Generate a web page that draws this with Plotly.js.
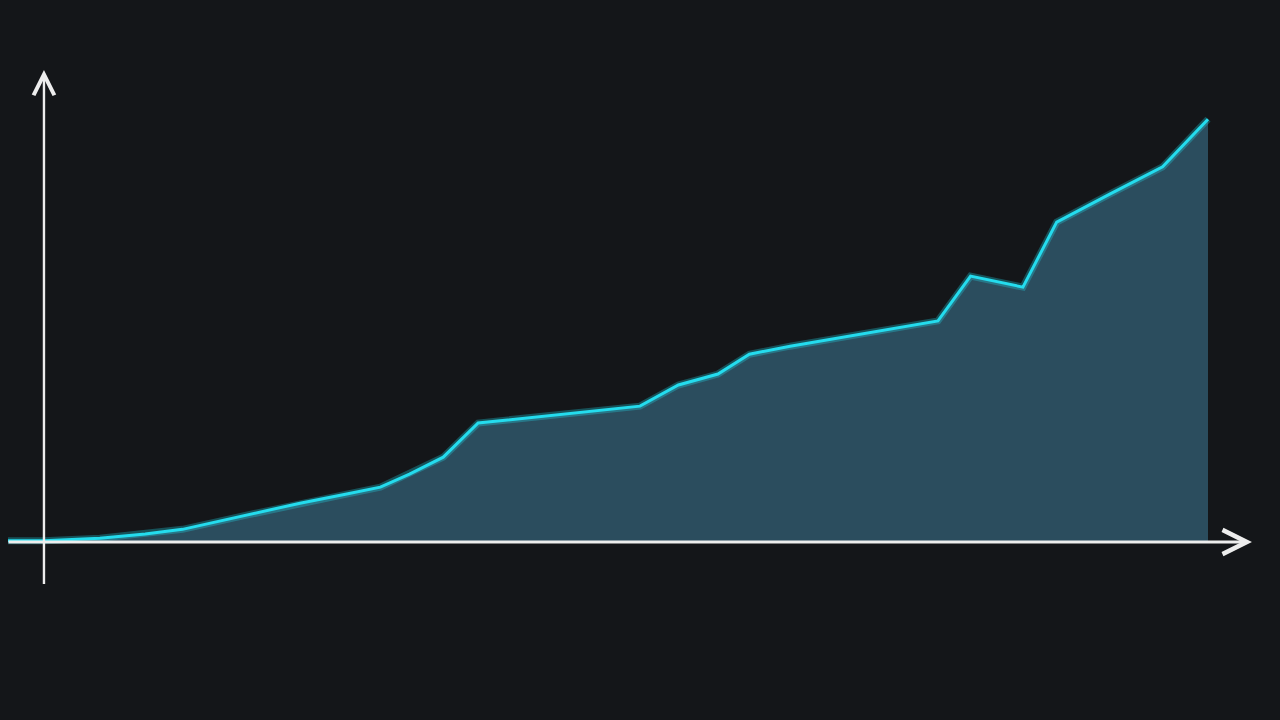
<!DOCTYPE html>
<html>
<head>
<meta charset="utf-8">
<script src="https://cdn.plot.ly/plotly-3.0.1.min.js"></script>
<style>
html,body{margin:0;padding:0;background:#141619;}
#chart{width:1280px;height:720px;}
</style>
</head>
<body>
<div id="chart"></div>
<script>
// Data (arbitrary units)
const xValues = [-3.2, 0, 4.8, 8.7, 11.9, 17.3, 22.0, 25.9, 28.9, 31.4, 34.3, 37.3, 51.2, 54.5, 57.9, 60.6, 64.1, 76.8, 79.6, 84.1, 87.0, 91.6, 96.1, 100];
const yValues = [0.3, 0.3, 0.9, 1.9, 3.0, 6.3, 9.2, 11.3, 13.0, 16.1, 20.1, 28.2, 32.2, 37.2, 39.8, 44.5, 46.4, 52.4, 63.0, 60.4, 75.8, 82.5, 88.9, 100.2];

const xRange = [-3.09, 103.78];
const yRange = [-10.19, 111.85];

const area = {
  x: xValues,
  y: yValues,
  type: 'scatter',
  mode: 'lines',
  line: {color: 'rgba(34,220,236,0.30)', width: 7},
  fill: 'tozeroy',
  fillcolor: '#2b4d5e',
  hoverinfo: 'skip'
};

const trace = {
  x: xValues,
  y: yValues,
  type: 'scatter',
  mode: 'lines',
  line: {color: '#24dcee', width: 3, shape: 'linear'},
  hoverinfo: 'skip'
};

const axisColor = '#ededed';

const layout = {
  width: 1280,
  height: 720,
  paper_bgcolor: '#141619',
  plot_bgcolor: '#141619',
  margin: {l: 8, r: 28, t: 70, b: 135, pad: 0},
  showlegend: false,
  xaxis: {
    range: xRange, showgrid: false, showticklabels: false, ticks: '',
    showline: false, zeroline: false, fixedrange: true
  },
  yaxis: {
    range: yRange, showgrid: false, showticklabels: false, ticks: '',
    showline: false, zeroline: false, fixedrange: true
  },
  annotations: [
    // vertical axis with arrow at top
    {x: 0, y: yRange[1], xref: 'x', yref: 'y', axref: 'x', ayref: 'y',
     ax: 0, ay: yRange[0], text: ' ', font: {size: 1}, borderpad: 0, showarrow: true,
     arrowhead: 5, arrowsize: 1.7, arrowwidth: 2.4, arrowcolor: axisColor},
    // horizontal axis with arrow at right
    {x: xRange[1], y: 0, xref: 'x', yref: 'y', axref: 'x', ayref: 'y',
     ax: xRange[0], ay: 0, text: ' ', font: {size: 1}, borderpad: 0, showarrow: true,
     arrowhead: 5, arrowsize: 1.7, arrowwidth: 2.8, arrowcolor: axisColor}
  ]
};

Plotly.newPlot('chart', [area, trace], layout, {displayModeBar: false, staticPlot: true});
</script>
</body>
</html>
